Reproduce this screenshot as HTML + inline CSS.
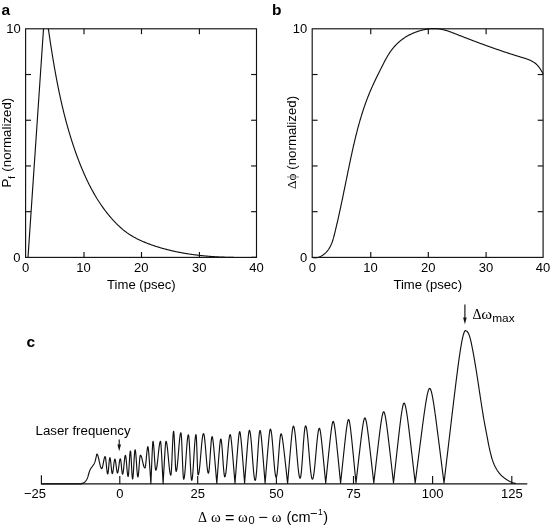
<!DOCTYPE html>
<html><head><meta charset="utf-8"><title>SPM figure</title>
<style>html,body{margin:0;padding:0;background:#fff;} body{width:552px;height:528px;overflow:hidden;} svg{display:block;}</style>
</head><body>
<svg width="552" height="528" viewBox="0 0 552 528">
<defs><clipPath id="ca"><rect x="25.60" y="28.80" width="230.90" height="228.60"/></clipPath></defs>
<g fill="none" stroke="#111" stroke-width="1.15" stroke-linecap="butt">
<rect x="25.6" y="28.8" width="230.90" height="228.60"/>
<line x1="84.00" y1="257.4" x2="84.00" y2="252.00"/>
<line x1="84.00" y1="28.8" x2="84.00" y2="34.20"/>
<line x1="141.50" y1="257.4" x2="141.50" y2="252.00"/>
<line x1="141.50" y1="28.8" x2="141.50" y2="34.20"/>
<line x1="199.40" y1="257.4" x2="199.40" y2="252.00"/>
<line x1="199.40" y1="28.8" x2="199.40" y2="34.20"/>
<line x1="25.6" y1="211.68" x2="31.00" y2="211.68"/>
<line x1="256.5" y1="211.68" x2="251.10" y2="211.68"/>
<line x1="25.6" y1="165.96" x2="31.00" y2="165.96"/>
<line x1="256.5" y1="165.96" x2="251.10" y2="165.96"/>
<line x1="25.6" y1="120.24" x2="31.00" y2="120.24"/>
<line x1="256.5" y1="120.24" x2="251.10" y2="120.24"/>
<line x1="25.6" y1="74.52" x2="31.00" y2="74.52"/>
<line x1="256.5" y1="74.52" x2="251.10" y2="74.52"/>
<polyline clip-path="url(#ca)" points="28.00,257.40 43.50,29.00 44.30,17.00"/>
<polyline clip-path="url(#ca)" points="46.60,18.00 48.39,29.06 48.48,29.65 48.57,30.24 48.65,30.83 48.74,31.42 48.82,32.01 48.91,32.60 49.00,33.19 49.08,33.79 49.17,34.38 49.26,34.97 49.35,35.56 49.43,36.15 49.52,36.74 49.61,37.33 49.70,37.92 49.79,38.51 49.88,39.11 49.96,39.70 50.05,40.29 50.14,40.88 50.23,41.47 50.32,42.06 50.41,42.65 50.50,43.24 50.59,43.83 50.68,44.42 50.77,45.01 50.86,45.60 50.95,46.19 51.05,46.78 51.14,47.37 51.23,47.96 51.32,48.55 51.41,49.14 51.51,49.73 51.60,50.32 51.69,50.91 51.79,51.50 51.88,52.09 51.97,52.68 52.07,53.27 52.16,53.86 52.26,54.45 52.35,55.04 52.45,55.63 52.54,56.22 52.64,56.81 52.74,57.39 52.83,57.98 52.93,58.57 53.03,59.16 53.13,59.75 53.22,60.34 53.32,60.93 53.42,61.52 53.52,62.10 53.62,62.69 53.72,63.28 53.82,63.87 53.92,64.46 54.02,65.04 54.12,65.63 54.22,66.22 54.32,66.81 54.43,67.40 54.53,67.98 54.63,68.57 54.74,69.16 54.84,69.74 54.94,70.33 55.05,70.92 55.15,71.51 55.26,72.09 55.36,72.68 55.47,73.27 55.58,73.85 55.68,74.44 55.79,75.02 55.90,75.61 56.01,76.20 56.12,76.78 56.23,77.37 56.34,77.95 56.45,78.54 56.56,79.12 56.67,79.71 56.78,80.30 56.89,80.88 57.00,81.47 57.12,82.05 57.23,82.64 57.34,83.22 57.46,83.80 57.57,84.39 57.69,84.97 57.80,85.56 57.92,86.14 58.04,86.72 58.15,87.31 58.27,87.89 58.39,88.48 58.51,89.06 58.63,89.64 58.75,90.23 58.87,90.81 58.99,91.39 59.11,91.97 59.23,92.56 59.36,93.14 59.48,93.72 59.60,94.30 59.73,94.89 59.85,95.47 59.98,96.05 60.10,96.63 60.23,97.21 60.36,97.79 60.48,98.37 60.61,98.96 60.74,99.54 60.87,100.12 61.00,100.70 61.13,101.28 61.26,101.86 61.40,102.44 61.53,103.02 61.66,103.60 61.79,104.18 61.93,104.76 62.06,105.34 62.20,105.92 62.33,106.49 62.47,107.07 62.61,107.65 62.75,108.23 62.89,108.81 63.03,109.39 63.17,109.96 63.31,110.54 63.45,111.12 63.59,111.70 63.73,112.27 63.88,112.85 64.02,113.43 64.16,114.01 64.31,114.58 64.46,115.16 64.60,115.73 64.75,116.31 64.90,116.89 65.05,117.46 65.20,118.04 65.35,118.61 65.50,119.19 65.65,119.76 65.80,120.34 65.95,120.91 66.11,121.49 66.26,122.06 66.42,122.64 66.57,123.21 66.73,123.78 66.89,124.36 67.05,124.93 67.21,125.50 67.37,126.08 67.53,126.65 67.69,127.22 67.85,127.79 68.01,128.37 68.18,128.94 68.34,129.51 68.51,130.08 68.67,130.65 68.84,131.22 69.01,131.79 69.18,132.36 69.35,132.93 69.52,133.50 69.69,134.07 69.86,134.64 70.03,135.21 70.20,135.78 70.38,136.35 70.55,136.92 70.73,137.49 70.91,138.06 71.08,138.63 71.26,139.19 71.44,139.76 71.62,140.33 71.80,140.90 71.98,141.46 72.17,142.03 72.35,142.60 72.54,143.17 72.72,143.73 72.91,144.30 73.09,144.86 73.28,145.43 73.47,145.99 73.66,146.56 73.85,147.12 74.04,147.69 74.24,148.25 74.43,148.82 74.62,149.38 74.82,149.95 75.01,150.51 75.21,151.07 75.41,151.63 75.61,152.20 75.81,152.76 76.01,153.32 76.21,153.88 76.41,154.45 76.62,155.01 76.82,155.57 77.03,156.13 77.24,156.69 77.44,157.25 77.65,157.81 77.86,158.37 78.07,158.93 78.28,159.49 78.50,160.05 78.71,160.61 78.92,161.17 79.14,161.73 79.36,162.28 79.57,162.84 79.79,163.40 80.01,163.95 80.23,164.51 80.45,165.07 80.68,165.62 80.90,166.18 81.13,166.73 81.35,167.29 81.58,167.84 81.81,168.40 82.04,168.95 82.27,169.50 82.50,170.05 82.74,170.60 82.97,171.15 83.21,171.71 83.45,172.26 83.68,172.80 83.92,173.35 84.16,173.90 84.41,174.45 84.65,175.00 84.89,175.54 85.14,176.09 85.39,176.63 85.64,177.18 85.89,177.72 86.14,178.26 86.39,178.81 86.64,179.35 86.90,179.89 87.16,180.43 87.42,180.97 87.67,181.51 87.94,182.04 88.20,182.58 88.46,183.12 88.73,183.65 88.99,184.19 89.26,184.72 89.53,185.25 89.80,185.78 90.08,186.31 90.35,186.84 90.63,187.37 90.90,187.90 91.18,188.43 91.46,188.96 91.74,189.48 92.03,190.01 92.31,190.53 92.60,191.05 92.89,191.57 93.18,192.09 93.47,192.61 93.76,193.13 94.06,193.65 94.35,194.16 94.65,194.68 94.95,195.19 95.25,195.71 95.55,196.22 95.86,196.73 96.16,197.24 96.47,197.75 96.78,198.25 97.09,198.76 97.41,199.26 97.72,199.77 98.04,200.27 98.36,200.77 98.68,201.27 99.00,201.77 99.32,202.27 99.65,202.76 99.98,203.26 100.31,203.75 100.64,204.24 100.97,204.73 101.31,205.22 101.64,205.71 101.98,206.20 102.32,206.68 102.67,207.17 103.01,207.65 103.36,208.13 103.71,208.61 104.06,209.09 104.41,209.57 104.76,210.04 105.12,210.51 105.48,210.99 105.84,211.46 106.20,211.93 106.57,212.39 106.93,212.86 107.30,213.33 107.67,213.79 108.04,214.25 108.42,214.71 108.80,215.17 109.17,215.62 109.56,216.08 109.94,216.53 110.32,216.98 110.71,217.43 111.10,217.88 111.49,218.33 111.89,218.77 112.28,219.22 112.68,219.66 113.08,220.10 113.48,220.54 113.89,220.97 114.29,221.41 114.70,221.84 115.12,222.27 115.53,222.70 115.95,223.12 116.36,223.55 116.78,223.97 117.21,224.39 117.63,224.81 118.06,225.22 118.49,225.64 118.93,226.04 119.36,226.45 119.80,226.86 120.24,227.26 120.68,227.65 121.13,228.05 121.58,228.44 122.03,228.83 122.48,229.21 122.94,229.60 123.40,229.97 123.86,230.35 124.32,230.72 124.79,231.09 125.26,231.45 125.74,231.81 126.21,232.16 126.69,232.51 127.17,232.86 127.66,233.20 128.14,233.54 128.64,233.88 129.13,234.21 129.63,234.53 130.12,234.85 130.63,235.17 131.13,235.48 131.64,235.79 132.15,236.09 132.66,236.39 133.18,236.69 133.69,236.98 134.21,237.27 134.74,237.55 135.26,237.83 135.79,238.11 136.31,238.39 136.84,238.66 137.37,238.92 137.91,239.19 138.44,239.45 138.98,239.71 139.52,239.97 140.06,240.22 140.60,240.47 141.14,240.72 141.68,240.96 142.23,241.21 142.78,241.45 143.33,241.68 143.87,241.92 144.43,242.15 144.98,242.38 145.53,242.60 146.09,242.83 146.64,243.05 147.20,243.27 147.76,243.48 148.32,243.70 148.88,243.91 149.44,244.12 150.00,244.32 150.56,244.53 151.12,244.73 151.69,244.93 152.25,245.13 152.82,245.32 153.39,245.52 153.95,245.71 154.52,245.90 155.09,246.08 155.66,246.27 156.23,246.45 156.80,246.63 157.37,246.81 157.94,246.99 158.52,247.16 159.09,247.34 159.66,247.51 160.23,247.68 160.81,247.85 161.38,248.01 161.95,248.18 162.53,248.34 163.10,248.50 163.68,248.66 164.25,248.82 164.83,248.97 165.41,249.13 165.98,249.28 166.56,249.43 167.14,249.58 167.72,249.72 168.29,249.87 168.87,250.01 169.45,250.15 170.03,250.29 170.61,250.43 171.19,250.57 171.77,250.71 172.35,250.84 172.93,250.97 173.51,251.10 174.09,251.23 174.67,251.36 175.25,251.48 175.84,251.61 176.42,251.73 177.00,251.85 177.58,251.97 178.17,252.09 178.75,252.20 179.34,252.32 179.92,252.43 180.50,252.54 181.09,252.65 181.67,252.76 182.26,252.87 182.84,252.97 183.43,253.08 184.02,253.18 184.60,253.28 185.19,253.38 185.78,253.48 186.36,253.58 186.95,253.67 187.54,253.77 188.12,253.86 188.71,253.95 189.30,254.04 189.89,254.13 190.48,254.22 191.07,254.30 191.66,254.39 192.25,254.47 192.83,254.55 193.42,254.63 194.01,254.71 194.60,254.79 195.19,254.87 195.79,254.94 196.38,255.01 196.97,255.09 197.56,255.16 198.15,255.23 198.74,255.30 199.33,255.36 199.92,255.43 200.52,255.50 201.11,255.56 201.70,255.62 202.29,255.68 202.89,255.74 203.48,255.80 204.07,255.86 204.66,255.92 205.26,255.97 205.85,256.03 206.44,256.08 207.04,256.13 207.63,256.19 208.23,256.24 208.82,256.28 209.41,256.33 210.01,256.38 210.60,256.42 211.20,256.47 211.79,256.51 212.39,256.55 212.98,256.60 213.58,256.64 214.17,256.67 214.77,256.71 215.36,256.75 215.96,256.79 216.55,256.82 217.15,256.86 217.74,256.89 218.34,256.92 218.94,256.95 219.53,256.98 220.13,257.01 220.72,257.04 221.32,257.07 221.92,257.10 222.51,257.12 223.11,257.15 223.71,257.17 224.30,257.19 224.90,257.21 225.49,257.24 226.09,257.26 226.69,257.28 227.28,257.29 227.88,257.31 228.48,257.33 229.07,257.35 229.67,257.36 230.27,257.38 230.87,257.39 231.46,257.40 232.06,257.41 232.66,257.43 233.25,257.44 233.85,257.45 234.45,257.46 235.04,257.46 235.64,257.47 236.24,257.48 236.83,257.49 237.43,257.49 238.03,257.50 238.62,257.50 239.22,257.50 239.82,257.51 240.41,257.51 241.01,257.51 241.61,257.51 242.20,257.51 242.80,257.51 243.40,257.51 243.99,257.51 244.59,257.51 245.19,257.51 245.78,257.50 246.38,257.50 246.98,257.49 247.57,257.49 248.17,257.48 248.76,257.48 249.36,257.47 249.96,257.46 250.55,257.46 251.15,257.45 251.74,257.44 252.34,257.43 252.93,257.42 253.53,257.41 254.12,257.40 254.72,257.39 255.31,257.38 255.91,257.37 256.50,257.36"/>
</g>
<g fill="none" stroke="#111" stroke-width="1.15">
<rect x="312.2" y="28.8" width="230.90" height="228.60"/>
<line x1="370.75" y1="257.4" x2="370.75" y2="252.00"/>
<line x1="370.75" y1="28.8" x2="370.75" y2="34.20"/>
<line x1="428.30" y1="257.4" x2="428.30" y2="252.00"/>
<line x1="428.30" y1="28.8" x2="428.30" y2="34.20"/>
<line x1="486.10" y1="257.4" x2="486.10" y2="252.00"/>
<line x1="486.10" y1="28.8" x2="486.10" y2="34.20"/>
<line x1="312.2" y1="211.68" x2="317.60" y2="211.68"/>
<line x1="543.1" y1="211.68" x2="537.70" y2="211.68"/>
<line x1="312.2" y1="165.96" x2="317.60" y2="165.96"/>
<line x1="543.1" y1="165.96" x2="537.70" y2="165.96"/>
<line x1="312.2" y1="120.24" x2="317.60" y2="120.24"/>
<line x1="543.1" y1="120.24" x2="537.70" y2="120.24"/>
<line x1="312.2" y1="74.52" x2="317.60" y2="74.52"/>
<line x1="543.1" y1="74.52" x2="537.70" y2="74.52"/>
<polyline points="312.10,257.33 312.59,257.48 313.08,257.60 313.58,257.69 314.07,257.75 314.57,257.79 315.07,257.80 315.56,257.79 316.06,257.76 316.55,257.70 317.05,257.62 317.54,257.52 318.03,257.39 318.51,257.25 318.99,257.09 319.47,256.91 319.94,256.72 320.41,256.51 320.88,256.28 321.33,256.04 321.78,255.78 322.23,255.51 322.66,255.23 323.09,254.94 323.51,254.63 323.92,254.32 324.32,254.00 324.72,253.67 325.10,253.33 325.47,252.99 325.83,252.64 326.18,252.28 326.52,251.92 326.85,251.55 327.18,251.17 327.49,250.79 327.79,250.41 328.09,250.02 328.37,249.62 328.65,249.22 328.92,248.81 329.18,248.40 329.43,247.98 329.68,247.56 329.92,247.14 330.15,246.71 330.37,246.28 330.59,245.84 330.80,245.40 331.01,244.95 331.20,244.51 331.40,244.05 331.59,243.60 331.77,243.14 331.95,242.68 332.12,242.21 332.29,241.75 332.45,241.28 332.61,240.81 332.76,240.33 332.91,239.86 333.06,239.38 333.20,238.90 333.35,238.42 333.48,237.93 333.62,237.45 333.75,236.96 333.88,236.48 334.01,235.99 334.14,235.50 334.26,235.01 334.39,234.52 334.51,234.03 334.63,233.54 334.75,233.05 334.87,232.56 334.99,232.07 335.11,231.58 335.23,231.09 335.35,230.59 335.47,230.10 335.58,229.61 335.70,229.12 335.82,228.63 335.94,228.14 336.05,227.65 336.17,227.16 336.28,226.67 336.40,226.18 336.52,225.69 336.63,225.20 336.74,224.71 336.86,224.22 336.97,223.73 337.09,223.24 337.20,222.75 337.31,222.26 337.42,221.77 337.54,221.28 337.65,220.79 337.76,220.30 337.87,219.81 337.98,219.32 338.09,218.84 338.20,218.35 338.31,217.86 338.42,217.37 338.53,216.88 338.64,216.39 338.75,215.90 338.86,215.41 338.97,214.92 339.07,214.43 339.18,213.94 339.29,213.45 339.40,212.97 339.50,212.48 339.61,211.99 339.72,211.50 339.82,211.01 339.93,210.52 340.04,210.03 340.14,209.54 340.25,209.05 340.35,208.57 340.46,208.08 340.56,207.59 340.67,207.10 340.77,206.61 340.88,206.12 340.98,205.63 341.08,205.15 341.19,204.66 341.29,204.17 341.40,203.68 341.50,203.19 341.60,202.70 341.70,202.22 341.81,201.73 341.91,201.24 342.01,200.75 342.11,200.26 342.22,199.77 342.32,199.29 342.42,198.80 342.52,198.31 342.62,197.82 342.73,197.33 342.83,196.84 342.93,196.36 343.03,195.87 343.13,195.38 343.23,194.89 343.33,194.40 343.43,193.91 343.53,193.43 343.63,192.94 343.73,192.45 343.83,191.96 343.93,191.47 344.03,190.98 344.14,190.50 344.24,190.01 344.34,189.52 344.44,189.03 344.54,188.54 344.63,188.05 344.73,187.57 344.83,187.08 344.93,186.59 345.03,186.10 345.13,185.61 345.23,185.12 345.33,184.64 345.43,184.15 345.53,183.66 345.63,183.17 345.73,182.68 345.83,182.19 345.93,181.71 346.03,181.22 346.13,180.73 346.23,180.24 346.33,179.75 346.43,179.26 346.53,178.77 346.63,178.29 346.73,177.80 346.83,177.31 346.93,176.82 347.03,176.33 347.13,175.84 347.23,175.35 347.33,174.87 347.43,174.38 347.53,173.89 347.63,173.40 347.73,172.91 347.83,172.42 347.93,171.93 348.03,171.44 348.13,170.95 348.23,170.46 348.33,169.98 348.43,169.49 348.53,169.00 348.63,168.51 348.74,168.02 348.84,167.53 348.94,167.04 349.04,166.55 349.14,166.06 349.24,165.57 349.34,165.08 349.45,164.59 349.55,164.10 349.65,163.61 349.75,163.12 349.86,162.63 349.96,162.14 350.06,161.65 350.17,161.16 350.27,160.67 350.37,160.18 350.48,159.69 350.58,159.20 350.68,158.71 350.79,158.22 350.89,157.73 351.00,157.24 351.10,156.75 351.21,156.26 351.31,155.77 351.42,155.28 351.53,154.79 351.63,154.30 351.74,153.81 351.84,153.32 351.95,152.83 352.06,152.34 352.17,151.85 352.27,151.36 352.38,150.87 352.49,150.38 352.60,149.89 352.71,149.40 352.82,148.91 352.93,148.42 353.04,147.93 353.15,147.44 353.26,146.95 353.37,146.46 353.48,145.97 353.59,145.48 353.71,144.99 353.82,144.50 353.93,144.02 354.04,143.53 354.16,143.04 354.27,142.55 354.39,142.06 354.50,141.57 354.62,141.08 354.73,140.59 354.85,140.10 354.97,139.62 355.08,139.13 355.20,138.64 355.32,138.15 355.44,137.66 355.56,137.18 355.68,136.69 355.80,136.20 355.92,135.71 356.04,135.23 356.16,134.74 356.28,134.25 356.40,133.76 356.53,133.28 356.65,132.79 356.77,132.31 356.90,131.82 357.02,131.33 357.15,130.85 357.28,130.36 357.40,129.88 357.53,129.39 357.66,128.91 357.79,128.42 357.92,127.94 358.05,127.45 358.18,126.97 358.31,126.48 358.44,126.00 358.57,125.52 358.70,125.03 358.84,124.55 358.97,124.07 359.11,123.58 359.24,123.10 359.38,122.62 359.52,122.14 359.65,121.65 359.79,121.17 359.93,120.69 360.07,120.21 360.21,119.73 360.35,119.25 360.49,118.77 360.63,118.29 360.78,117.81 360.92,117.33 361.07,116.85 361.21,116.37 361.36,115.89 361.50,115.41 361.65,114.94 361.80,114.46 361.95,113.98 362.10,113.50 362.25,113.03 362.40,112.55 362.55,112.07 362.70,111.60 362.86,111.12 363.01,110.65 363.17,110.17 363.32,109.70 363.48,109.22 363.64,108.75 363.80,108.28 363.96,107.80 364.12,107.33 364.28,106.86 364.44,106.38 364.60,105.91 364.77,105.44 364.93,104.97 365.10,104.50 365.26,104.03 365.43,103.56 365.60,103.09 365.77,102.62 365.94,102.15 366.11,101.68 366.28,101.21 366.46,100.75 366.63,100.28 366.81,99.81 366.98,99.34 367.16,98.88 367.34,98.41 367.51,97.95 367.69,97.48 367.87,97.02 368.06,96.55 368.24,96.09 368.42,95.63 368.61,95.16 368.79,94.70 368.98,94.24 369.17,93.78 369.36,93.32 369.55,92.86 369.74,92.40 369.93,91.94 370.12,91.48 370.32,91.02 370.51,90.56 370.71,90.10 370.91,89.65 371.11,89.19 371.30,88.73 371.50,88.28 371.71,87.82 371.91,87.37 372.11,86.91 372.32,86.46 372.52,86.00 372.73,85.55 372.93,85.10 373.14,84.64 373.35,84.19 373.56,83.74 373.77,83.29 373.98,82.83 374.19,82.38 374.40,81.93 374.61,81.48 374.83,81.03 375.04,80.58 375.26,80.13 375.47,79.68 375.69,79.23 375.90,78.78 376.12,78.33 376.34,77.88 376.56,77.43 376.78,76.98 377.00,76.53 377.22,76.08 377.44,75.64 377.66,75.19 377.88,74.74 378.10,74.29 378.32,73.84 378.54,73.40 378.77,72.95 378.99,72.50 379.21,72.05 379.44,71.61 379.66,71.16 379.89,70.71 380.11,70.26 380.34,69.82 380.56,69.37 380.79,68.92 381.01,68.47 381.24,68.03 381.46,67.58 381.69,67.13 381.92,66.68 382.14,66.24 382.37,65.79 382.59,65.34 382.82,64.89 383.05,64.44 383.28,64.00 383.50,63.55 383.73,63.10 383.96,62.66 384.19,62.21 384.42,61.77 384.66,61.32 384.89,60.88 385.13,60.43 385.36,59.99 385.60,59.55 385.84,59.11 386.08,58.67 386.32,58.23 386.57,57.80 386.81,57.36 387.06,56.93 387.31,56.49 387.57,56.06 387.82,55.63 388.08,55.21 388.34,54.78 388.61,54.36 388.87,53.93 389.14,53.51 389.41,53.10 389.69,52.68 389.97,52.27 390.25,51.86 390.53,51.45 390.82,51.04 391.12,50.64 391.41,50.23 391.71,49.84 392.01,49.44 392.32,49.05 392.63,48.66 392.95,48.27 393.27,47.88 393.59,47.50 393.91,47.12 394.24,46.75 394.57,46.37 394.91,46.00 395.25,45.64 395.59,45.27 395.94,44.91 396.29,44.56 396.64,44.20 397.00,43.85 397.36,43.50 397.72,43.16 398.09,42.82 398.45,42.48 398.83,42.15 399.20,41.82 399.58,41.49 399.96,41.17 400.35,40.85 400.73,40.54 401.12,40.23 401.52,39.92 401.91,39.62 402.31,39.32 402.71,39.02 403.12,38.73 403.52,38.44 403.93,38.16 404.35,37.88 404.76,37.61 405.18,37.34 405.60,37.07 406.02,36.81 406.45,36.55 406.88,36.29 407.31,36.05 407.74,35.80 408.18,35.56 408.61,35.32 409.05,35.09 409.49,34.86 409.94,34.64 410.39,34.41 410.83,34.20 411.29,33.99 411.74,33.78 412.19,33.57 412.65,33.37 413.11,33.18 413.57,32.98 414.03,32.79 414.50,32.61 414.97,32.43 415.43,32.25 415.90,32.08 416.38,31.91 416.85,31.74 417.33,31.58 417.80,31.42 418.28,31.27 418.76,31.12 419.24,30.97 419.73,30.82 420.21,30.68 420.70,30.55 421.19,30.41 421.68,30.28 422.17,30.16 422.66,30.04 423.15,29.92 423.65,29.81 424.14,29.70 424.64,29.59 425.13,29.49 425.63,29.40 426.13,29.31 426.63,29.22 427.12,29.14 427.62,29.06 428.12,28.99 428.62,28.92 429.12,28.86 429.62,28.81 430.12,28.75 430.62,28.71 431.13,28.67 431.63,28.64 432.13,28.61 432.63,28.59 433.12,28.57 433.62,28.56 434.12,28.56 434.62,28.56 435.12,28.57 435.61,28.58 436.11,28.61 436.60,28.64 437.10,28.67 437.59,28.71 438.08,28.76 438.57,28.82 439.06,28.88 439.55,28.95 440.04,29.03 440.53,29.11 441.01,29.20 441.50,29.29 441.98,29.40 442.46,29.50 442.94,29.61 443.42,29.73 443.90,29.85 444.38,29.98 444.86,30.11 445.34,30.24 445.82,30.38 446.29,30.53 446.77,30.67 447.24,30.82 447.72,30.98 448.19,31.14 448.66,31.30 449.14,31.46 449.61,31.63 450.08,31.80 450.55,31.97 451.02,32.14 451.49,32.32 451.96,32.49 452.43,32.67 452.90,32.85 453.37,33.03 453.84,33.21 454.31,33.40 454.78,33.58 455.25,33.77 455.72,33.95 456.18,34.13 456.65,34.32 457.12,34.50 457.59,34.69 458.06,34.87 458.53,35.05 458.99,35.24 459.46,35.42 459.93,35.60 460.40,35.79 460.86,35.97 461.33,36.15 461.80,36.33 462.27,36.52 462.74,36.70 463.20,36.88 463.67,37.06 464.14,37.24 464.61,37.42 465.07,37.60 465.54,37.78 466.01,37.96 466.48,38.14 466.94,38.32 467.41,38.50 467.88,38.68 468.35,38.86 468.82,39.04 469.28,39.22 469.75,39.40 470.22,39.58 470.69,39.76 471.15,39.94 471.62,40.11 472.09,40.29 472.56,40.47 473.02,40.65 473.49,40.82 473.96,41.00 474.43,41.18 474.90,41.35 475.36,41.53 475.83,41.70 476.30,41.88 476.77,42.06 477.24,42.23 477.70,42.41 478.17,42.58 478.64,42.75 479.11,42.93 479.58,43.10 480.04,43.28 480.51,43.45 480.98,43.62 481.45,43.80 481.92,43.97 482.39,44.14 482.86,44.31 483.32,44.48 483.79,44.66 484.26,44.83 484.73,45.00 485.20,45.17 485.67,45.34 486.14,45.51 486.61,45.68 487.08,45.85 487.55,46.02 488.02,46.19 488.49,46.36 488.96,46.53 489.43,46.69 489.90,46.86 490.37,47.03 490.84,47.20 491.31,47.36 491.78,47.53 492.25,47.70 492.72,47.86 493.19,48.03 493.66,48.19 494.13,48.36 494.60,48.53 495.08,48.69 495.55,48.85 496.02,49.02 496.49,49.18 496.96,49.35 497.43,49.51 497.91,49.67 498.38,49.83 498.85,50.00 499.32,50.16 499.80,50.32 500.27,50.48 500.74,50.64 501.22,50.80 501.69,50.96 502.16,51.12 502.64,51.28 503.11,51.44 503.58,51.60 504.06,51.76 504.53,51.92 505.01,52.08 505.48,52.23 505.96,52.39 506.43,52.55 506.91,52.70 507.38,52.86 507.86,53.02 508.33,53.17 508.81,53.33 509.29,53.48 509.76,53.64 510.24,53.79 510.72,53.94 511.19,54.10 511.67,54.25 512.15,54.40 512.63,54.56 513.10,54.71 513.58,54.86 514.06,55.01 514.54,55.16 515.02,55.31 515.50,55.46 515.98,55.61 516.46,55.76 516.94,55.91 517.42,56.06 517.90,56.21 518.38,56.36 518.86,56.50 519.34,56.65 519.82,56.80 520.30,56.94 520.78,57.09 521.26,57.24 521.75,57.38 522.23,57.53 522.71,57.67 523.19,57.82 523.67,57.96 524.15,58.11 524.63,58.26 525.11,58.41 525.59,58.56 526.07,58.72 526.54,58.88 527.01,59.04 527.48,59.21 527.95,59.38 528.41,59.55 528.87,59.73 529.33,59.92 529.78,60.11 530.23,60.30 530.68,60.50 531.12,60.71 531.56,60.93 531.99,61.15 532.42,61.39 532.84,61.63 533.26,61.87 533.67,62.13 534.08,62.40 534.48,62.67 534.87,62.96 535.26,63.26 535.64,63.56 536.01,63.88 536.38,64.21 536.74,64.55 537.09,64.91 537.44,65.27 537.77,65.65 538.10,66.04 538.42,66.43 538.74,66.84 539.05,67.25 539.35,67.67 539.65,68.10 539.95,68.53 540.23,68.96 540.52,69.40 540.79,69.85 541.07,70.29 541.34,70.74 541.60,71.18 541.86,71.63 542.12,72.07 542.37,72.52 542.63,72.96 542.88,73.39 543.12,73.83"/>
</g>
<g fill="none" stroke="#111" stroke-width="1.15">
<line x1="41.4" y1="483.9" x2="527.3" y2="483.9"/>
<line x1="41.4" y1="484.4" x2="41.4" y2="475.2"/>
<line x1="119.80" y1="483.9" x2="119.80" y2="476.0"/>
<line x1="197.70" y1="483.9" x2="197.70" y2="476.0"/>
<line x1="276.40" y1="483.9" x2="276.40" y2="476.0"/>
<line x1="353.50" y1="483.9" x2="353.50" y2="476.0"/>
<line x1="432.60" y1="483.9" x2="432.60" y2="476.0"/>
<line x1="511.80" y1="483.9" x2="511.80" y2="476.0"/>
<polyline stroke-linejoin="round" points="41.40,483.90 44.45,483.90 48.75,483.91 53.89,483.92 59.48,483.93 65.08,483.94 70.31,483.94 74.75,483.92 78.00,483.90 80.04,483.86 81.25,483.82 81.82,483.76 81.94,483.70 81.79,483.63 81.56,483.56 81.43,483.48 81.60,483.40 81.96,483.32 82.29,483.25 82.61,483.17 82.90,483.09 83.18,483.00 83.46,482.89 83.73,482.76 84.00,482.60 84.27,482.41 84.54,482.21 84.80,481.98 85.05,481.74 85.30,481.48 85.54,481.20 85.77,480.91 86.00,480.60 86.22,480.28 86.44,479.95 86.65,479.60 86.85,479.23 87.05,478.85 87.24,478.45 87.42,478.03 87.60,477.60 87.77,477.14 87.92,476.65 88.07,476.14 88.21,475.62 88.35,475.09 88.49,474.55 88.64,474.02 88.80,473.50 88.97,472.98 89.14,472.45 89.31,471.92 89.49,471.39 89.67,470.87 89.87,470.36 90.08,469.87 90.30,469.40 90.54,468.96 90.80,468.54 91.08,468.14 91.36,467.76 91.65,467.38 91.94,466.99 92.23,466.60 92.50,466.20 92.77,465.79 93.05,465.39 93.33,464.99 93.61,464.59 93.88,464.17 94.13,463.74 94.38,463.28 94.60,462.80 94.81,462.25 95.01,461.63 95.20,460.96 95.38,460.29 95.54,459.64 95.69,459.05 95.81,458.56 96.80,454.00 97.00,454.06 97.21,454.25 97.41,454.56 97.62,454.98 97.82,455.51 98.03,456.14 98.23,456.86 98.43,457.65 98.64,458.51 98.84,459.41 99.05,460.35 99.25,461.30 99.45,462.25 99.66,463.19 99.86,464.09 100.07,464.95 100.27,465.74 100.47,466.46 100.68,467.09 100.88,467.62 101.09,468.04 101.29,468.35 101.50,468.54 101.70,468.60 101.91,468.48 102.12,468.14 102.34,467.59 102.55,466.84 102.76,465.93 102.97,464.90 103.19,463.77 103.40,462.60 103.61,461.43 103.83,460.30 104.04,459.27 104.25,458.36 104.46,457.61 104.67,457.06 104.89,456.72 105.10,456.60 105.30,456.85 105.50,457.60 105.70,458.79 105.90,460.36 106.10,462.21 106.30,464.25 106.50,466.35 106.70,468.39 106.90,470.24 107.10,471.81 107.30,473.00 107.50,473.75 107.70,474.00 107.90,473.67 108.10,472.71 108.30,471.19 108.50,469.24 108.70,467.01 108.90,464.69 109.10,462.46 109.30,460.51 109.50,458.99 109.70,458.03 109.90,457.70 110.12,458.02 110.34,458.96 110.55,460.44 110.77,462.35 110.99,464.52 111.21,466.78 111.43,468.95 111.65,470.86 111.86,472.34 112.08,473.28 112.30,473.60 112.50,473.39 112.70,472.78 112.90,471.79 113.10,470.49 113.30,468.95 113.50,467.27 113.70,465.53 113.90,463.85 114.10,462.31 114.30,461.01 114.50,460.02 114.70,459.41 114.90,459.20 115.12,459.44 115.33,460.12 115.55,461.22 115.77,462.65 115.98,464.31 116.20,466.10 116.42,467.89 116.63,469.55 116.85,470.98 117.07,472.08 117.28,472.76 117.50,473.00 117.72,472.79 117.93,472.19 118.15,471.21 118.36,469.93 118.58,468.42 118.79,466.76 119.01,465.04 119.22,463.38 119.44,461.87 119.65,460.59 119.87,459.61 120.08,459.01 120.30,458.80 120.51,459.11 120.72,460.02 120.93,461.46 121.14,463.30 121.35,465.40 121.55,467.60 121.76,469.70 121.97,471.54 122.18,472.98 122.39,473.89 122.60,474.20 122.80,473.96 123.00,473.27 123.20,472.15 123.40,470.66 123.60,468.88 123.80,466.89 124.00,464.80 124.20,462.71 124.40,460.72 124.60,458.94 124.80,457.45 125.00,456.33 125.20,455.64 125.40,455.40 125.61,455.71 125.82,456.61 126.02,458.05 126.23,459.96 126.44,462.21 126.65,464.68 126.85,467.22 127.06,469.69 127.27,471.94 127.48,473.85 127.68,475.29 127.89,476.19 128.10,476.50 128.31,475.98 128.52,474.48 128.73,472.10 128.94,469.05 129.15,465.56 129.35,461.94 129.56,458.45 129.77,455.40 129.98,453.02 130.19,451.52 130.40,451.00 130.62,451.69 130.84,453.67 131.06,456.77 131.28,460.67 131.50,465.00 131.72,469.33 131.94,473.23 132.16,476.33 132.38,478.31 132.60,479.00 132.81,478.50 133.02,477.04 133.22,474.72 133.43,471.70 133.64,468.18 133.85,464.40 134.06,460.62 134.27,457.10 134.47,454.08 134.68,451.76 134.89,450.30 135.10,449.80 135.30,450.14 135.50,451.14 135.70,452.76 135.90,454.90 136.10,457.47 136.30,460.33 136.50,463.35 136.70,466.37 136.90,469.23 137.10,471.80 137.30,473.94 137.50,475.56 137.70,476.56 137.90,476.90 138.11,476.53 138.32,475.45 138.53,473.72 138.73,471.47 138.94,468.86 139.15,466.05 139.36,463.24 139.57,460.62 139.78,458.38 139.98,456.65 140.19,455.57 140.40,455.20 140.60,455.27 140.81,455.46 141.01,455.78 141.22,456.22 141.42,456.76 141.63,457.41 141.83,458.14 142.04,458.94 142.24,459.80 142.45,460.69 142.65,461.60 142.85,462.51 143.06,463.40 143.26,464.26 143.47,465.06 143.67,465.79 143.88,466.44 144.08,466.98 144.29,467.42 144.49,467.74 144.70,467.93 144.90,468.00 145.10,467.77 145.30,467.08 145.50,465.97 145.70,464.48 145.90,462.68 146.10,460.64 146.30,458.46 146.50,456.24 146.70,454.06 146.90,452.02 147.10,450.22 147.30,448.73 147.50,447.62 147.70,446.93 147.90,446.70 148.10,447.15 148.30,448.35 148.50,450.11 148.70,452.28 148.90,454.73 149.10,457.38 149.30,460.15 149.50,463.01 149.70,465.92 149.90,468.85 150.10,471.79 150.30,474.74 150.50,477.70 150.70,480.65 150.90,483.60 151.11,478.52 151.32,473.45 151.53,468.38 151.74,463.33 151.95,458.35 152.16,453.54 152.37,449.06 152.58,445.21 152.79,442.41 153.00,441.30 153.20,441.66 153.40,442.73 153.60,444.45 153.80,446.74 154.00,449.48 154.20,452.53 154.40,455.75 154.60,458.97 154.80,462.02 155.00,464.76 155.20,467.05 155.40,468.77 155.60,469.84 155.80,470.20 156.00,470.07 156.21,469.66 156.41,469.00 156.62,468.10 156.82,466.96 157.03,465.61 157.23,464.08 157.43,462.40 157.64,460.59 157.84,458.69 158.05,456.74 158.25,454.76 158.46,452.81 158.66,450.91 158.87,449.10 159.07,447.42 159.27,445.89 159.48,444.54 159.68,443.40 159.89,442.50 160.09,441.84 160.30,441.43 160.50,441.30 160.72,442.09 160.93,444.13 161.15,447.04 161.37,450.50 161.58,454.32 161.80,458.35 162.02,462.49 162.23,466.69 162.45,470.91 162.67,475.14 162.88,479.37 163.10,483.60 163.31,479.97 163.51,476.35 163.72,472.72 163.93,469.10 164.14,465.49 164.34,461.90 164.55,458.35 164.76,454.89 164.96,451.57 165.17,448.47 165.38,445.71 165.59,443.45 165.79,441.89 166.00,441.30 166.20,441.45 166.40,441.88 166.60,442.59 166.80,443.57 167.00,444.80 167.20,446.26 167.40,447.93 167.60,449.77 167.80,451.76 168.00,453.86 168.20,456.04 168.40,458.25 168.60,460.46 168.80,462.64 169.00,464.74 169.20,466.72 169.40,468.57 169.60,470.24 169.80,471.70 170.00,472.93 170.20,473.91 170.40,474.62 170.60,475.05 170.80,475.20 171.02,474.56 171.23,472.69 171.45,469.68 171.66,465.72 171.88,461.03 172.09,455.90 172.31,450.60 172.52,445.47 172.74,440.78 172.95,436.82 173.17,433.81 173.38,431.94 173.60,431.30 173.81,431.98 174.02,433.99 174.22,437.17 174.43,441.32 174.64,446.16 174.85,451.35 175.06,456.54 175.27,461.38 175.47,465.53 175.68,468.71 175.89,470.72 176.10,471.40 176.30,471.23 176.50,470.74 176.70,469.93 176.90,468.81 177.10,467.41 177.30,465.75 177.50,463.85 177.70,461.75 177.90,459.49 178.10,457.10 178.30,454.62 178.50,452.10 178.70,449.58 178.90,447.10 179.10,444.71 179.30,442.45 179.50,440.35 179.70,438.45 179.90,436.79 180.10,435.39 180.30,434.27 180.50,433.46 180.70,432.97 180.90,432.80 181.12,433.47 181.33,435.46 181.55,438.63 181.76,442.82 181.98,447.77 182.19,453.20 182.41,458.80 182.62,464.23 182.84,469.18 183.05,473.37 183.27,476.54 183.48,478.53 183.70,479.20 183.90,478.99 184.11,478.38 184.31,477.36 184.52,475.97 184.72,474.22 184.93,472.15 185.13,469.80 185.33,467.21 185.54,464.43 185.74,461.52 185.95,458.51 186.15,455.49 186.36,452.48 186.56,449.57 186.77,446.79 186.97,444.20 187.17,441.85 187.38,439.78 187.58,438.03 187.79,436.64 187.99,435.62 188.20,435.01 188.40,434.80 188.61,435.24 188.81,436.53 189.02,438.63 189.22,441.46 189.43,444.91 189.64,448.84 189.84,453.11 190.05,457.55 190.26,461.99 190.46,466.26 190.67,470.19 190.88,473.64 191.08,476.47 191.29,478.57 191.49,479.86 191.70,480.30 191.90,480.04 192.11,479.28 192.31,478.04 192.52,476.33 192.72,474.20 192.93,471.70 193.13,468.88 193.34,465.80 193.54,462.53 193.75,459.16 193.95,455.74 194.16,452.37 194.36,449.10 194.57,446.03 194.77,443.20 194.98,440.70 195.18,438.57 195.39,436.86 195.59,435.62 195.80,434.86 196.00,434.60 196.21,435.59 196.42,438.46 196.63,442.93 196.84,448.56 197.05,454.80 197.26,461.04 197.47,466.67 197.68,471.14 197.89,474.01 198.10,475.00 198.30,474.86 198.50,474.44 198.70,473.75 198.90,472.80 199.10,471.59 199.30,470.16 199.50,468.51 199.70,466.66 199.90,464.65 200.10,462.50 200.30,460.24 200.50,457.89 200.70,455.50 200.90,453.10 201.10,450.71 201.30,448.36 201.50,446.10 201.70,443.95 201.90,441.94 202.10,440.09 202.30,438.44 202.50,437.01 202.70,435.80 202.90,434.85 203.10,434.16 203.30,433.74 203.50,433.60 203.70,433.77 203.91,434.27 204.11,435.11 204.32,436.25 204.52,437.69 204.72,439.40 204.93,441.35 205.13,443.50 205.34,445.82 205.54,448.28 205.75,450.82 205.95,453.40 206.15,455.98 206.36,458.52 206.56,460.98 206.77,463.30 206.97,465.45 207.18,467.40 207.38,469.11 207.58,470.55 207.79,471.69 207.99,472.53 208.20,473.03 208.40,473.20 208.61,472.92 208.81,472.10 209.02,470.75 209.22,468.92 209.43,466.66 209.63,464.05 209.84,461.16 210.04,458.08 210.25,454.90 210.46,451.72 210.66,448.64 210.87,445.75 211.07,443.14 211.28,440.88 211.48,439.05 211.69,437.70 211.89,436.88 212.10,436.60 212.30,436.85 212.51,437.55 212.71,438.62 212.92,439.99 213.12,441.61 213.33,443.43 213.53,445.41 213.73,447.52 213.94,449.72 214.14,452.00 214.35,454.33 214.55,456.70 214.76,459.09 214.96,461.51 215.17,463.94 215.37,466.38 215.57,468.82 215.78,471.27 215.98,473.71 216.19,476.16 216.39,478.61 216.60,481.05 216.80,483.50 217.00,480.83 217.20,478.16 217.40,475.49 217.60,472.82 217.80,470.15 218.00,467.49 218.20,464.83 218.40,462.18 218.60,459.54 218.80,456.94 219.00,454.38 219.20,451.88 219.40,449.46 219.60,447.17 219.80,445.03 220.00,443.11 220.20,441.47 220.40,440.17 220.60,439.31 220.80,439.00 221.00,439.23 221.20,439.93 221.40,441.06 221.60,442.61 221.80,444.54 222.00,446.79 222.20,449.32 222.40,452.06 222.60,454.94 222.80,457.90 223.00,460.86 223.20,463.74 223.40,466.48 223.60,469.01 223.80,471.26 224.00,473.19 224.20,474.74 224.40,475.87 224.60,476.57 224.80,476.80 225.01,476.65 225.22,476.19 225.42,475.43 225.63,474.38 225.84,473.06 226.05,471.49 226.25,469.69 226.46,467.69 226.67,465.51 226.88,463.18 227.08,460.75 227.29,458.24 227.50,455.70 227.71,453.16 227.92,450.65 228.12,448.22 228.33,445.89 228.54,443.71 228.75,441.71 228.95,439.91 229.16,438.34 229.37,437.02 229.58,435.97 229.78,435.21 229.99,434.75 230.20,434.60 230.40,434.84 230.60,435.51 230.80,436.54 231.00,437.88 231.20,439.45 231.40,441.23 231.60,443.17 231.80,445.24 232.00,447.41 232.20,449.66 232.40,451.96 232.60,454.31 232.80,456.70 233.00,459.10 233.20,461.52 233.40,463.95 233.60,466.39 233.80,468.83 234.00,471.28 234.20,473.72 234.40,476.17 234.60,478.61 234.80,481.06 235.00,483.50 235.20,480.79 235.41,478.08 235.61,475.38 235.82,472.67 236.02,469.96 236.23,467.26 236.43,464.55 236.63,461.86 236.84,459.17 237.04,456.49 237.25,453.84 237.45,451.22 237.66,448.64 237.86,446.12 238.07,443.68 238.27,441.35 238.47,439.16 238.68,437.14 238.88,435.35 239.09,433.83 239.29,432.65 239.50,431.88 239.70,431.60 239.90,431.85 240.11,432.56 240.31,433.65 240.52,435.05 240.72,436.71 240.92,438.58 241.13,440.63 241.33,442.80 241.54,445.09 241.74,447.46 241.95,449.89 242.15,452.36 242.35,454.87 242.56,457.40 242.76,459.95 242.97,462.51 243.17,465.08 243.38,467.65 243.58,470.23 243.78,472.80 243.99,475.38 244.19,477.95 244.40,480.53 244.60,483.10 244.80,480.46 245.00,477.82 245.20,475.18 245.40,472.54 245.60,469.90 245.80,467.26 246.00,464.63 246.20,461.99 246.40,459.37 246.60,456.76 246.80,454.16 247.00,451.59 247.20,449.05 247.40,446.56 247.60,444.13 247.80,441.79 248.00,439.55 248.20,437.46 248.40,435.54 248.60,433.84 248.80,432.40 249.00,431.29 249.20,430.56 249.40,430.30 249.61,430.46 249.81,430.93 250.02,431.71 250.23,432.78 250.44,434.14 250.64,435.77 250.85,437.64 251.06,439.73 251.26,442.02 251.47,444.48 251.68,447.08 251.89,449.78 252.09,452.55 252.30,455.35 252.51,458.15 252.71,460.92 252.92,463.62 253.13,466.22 253.34,468.68 253.54,470.97 253.75,473.06 253.96,474.93 254.16,476.56 254.37,477.92 254.58,478.99 254.79,479.77 254.99,480.24 255.20,480.40 255.40,480.19 255.61,479.55 255.81,478.50 256.02,477.06 256.22,475.24 256.43,473.09 256.63,470.64 256.83,467.93 257.04,465.00 257.24,461.91 257.45,458.71 257.65,455.45 257.85,452.19 258.06,448.99 258.26,445.90 258.47,442.98 258.67,440.26 258.88,437.81 259.08,435.66 259.28,433.84 259.49,432.40 259.69,431.35 259.90,430.71 260.10,430.50 260.30,430.74 260.50,431.41 260.70,432.45 260.90,433.79 261.10,435.38 261.30,437.18 261.50,439.15 261.70,441.26 261.90,443.48 262.10,445.78 262.30,448.14 262.50,450.56 262.70,453.02 262.90,455.50 263.10,458.00 263.30,460.51 263.50,463.04 263.70,465.56 263.90,468.10 264.10,470.63 264.30,473.16 264.50,475.70 264.70,478.23 264.90,480.77 265.10,483.30 265.30,480.80 265.51,478.30 265.71,475.80 265.92,473.29 266.12,470.79 266.32,468.29 266.53,465.79 266.73,463.30 266.93,460.80 267.14,458.32 267.34,455.85 267.55,453.39 267.75,450.95 267.95,448.54 268.16,446.18 268.36,443.86 268.57,441.62 268.77,439.47 268.97,437.42 269.18,435.52 269.38,433.78 269.58,432.24 269.79,430.96 269.99,429.97 270.20,429.33 270.40,429.10 270.60,429.24 270.80,429.66 271.00,430.36 271.20,431.32 271.40,432.54 271.60,434.00 271.80,435.69 272.00,437.58 272.20,439.65 272.40,441.88 272.60,444.25 272.80,446.72 273.00,449.26 273.20,451.85 273.40,454.45 273.60,457.04 273.80,459.58 274.00,462.05 274.20,464.42 274.40,466.65 274.60,468.72 274.80,470.61 275.00,472.30 275.20,473.76 275.40,474.98 275.60,475.94 275.80,476.64 276.00,477.06 276.20,477.20 276.40,477.01 276.61,476.46 276.81,475.55 277.02,474.29 277.22,472.72 277.43,470.84 277.63,468.71 277.83,466.35 278.04,463.80 278.24,461.12 278.45,458.33 278.65,455.50 278.85,452.67 279.06,449.88 279.26,447.20 279.47,444.65 279.67,442.29 279.88,440.16 280.08,438.28 280.28,436.71 280.49,435.45 280.69,434.54 280.90,433.99 281.10,433.80 281.30,433.94 281.51,434.34 281.71,434.96 281.91,435.77 282.12,436.76 282.32,437.89 282.52,439.16 282.73,440.53 282.93,441.99 283.13,443.53 283.33,445.13 283.54,446.79 283.74,448.49 283.94,450.23 284.15,452.00 284.35,453.80 284.55,455.61 284.76,457.43 284.96,459.26 285.16,461.11 285.37,462.96 285.57,464.81 285.77,466.66 285.98,468.52 286.18,470.38 286.38,472.24 286.58,474.10 286.79,475.96 286.99,477.82 287.19,479.68 287.40,481.54 287.60,483.40 287.81,480.94 288.01,478.49 288.22,476.03 288.43,473.58 288.64,471.12 288.84,468.67 289.05,466.21 289.26,463.76 289.46,461.31 289.67,458.87 289.88,456.43 290.09,454.00 290.29,451.59 290.50,449.20 290.71,446.84 290.91,444.51 291.12,442.23 291.33,440.01 291.54,437.86 291.74,435.81 291.95,433.87 292.16,432.07 292.36,430.44 292.57,429.01 292.78,427.81 292.99,426.90 293.19,426.31 293.40,426.10 293.60,426.22 293.81,426.57 294.01,427.16 294.21,427.97 294.42,429.00 294.62,430.24 294.82,431.67 295.02,433.30 295.23,435.09 295.43,437.04 295.63,439.12 295.84,441.33 296.04,443.63 296.24,446.01 296.45,448.44 296.65,450.91 296.85,453.39 297.05,455.86 297.26,458.29 297.46,460.67 297.66,462.97 297.87,465.18 298.07,467.26 298.27,469.21 298.48,471.00 298.68,472.63 298.88,474.06 299.08,475.30 299.29,476.33 299.49,477.14 299.69,477.73 299.90,478.08 300.10,478.20 300.30,478.02 300.51,477.50 300.71,476.62 300.91,475.42 301.12,473.90 301.32,472.08 301.53,470.00 301.73,467.67 301.93,465.12 302.14,462.41 302.34,459.55 302.54,456.59 302.75,453.57 302.95,450.53 303.16,447.51 303.36,444.55 303.56,441.69 303.77,438.97 303.97,436.43 304.17,434.10 304.38,432.02 304.58,430.20 304.79,428.68 304.99,427.48 305.19,426.60 305.40,426.08 305.60,425.90 305.81,426.02 306.01,426.38 306.22,426.98 306.42,427.81 306.63,428.86 306.84,430.13 307.04,431.60 307.25,433.26 307.45,435.10 307.66,437.09 307.87,439.22 308.07,441.48 308.28,443.83 308.48,446.27 308.69,448.76 308.90,451.28 309.10,453.82 309.31,456.34 309.52,458.83 309.72,461.27 309.93,463.62 310.13,465.88 310.34,468.01 310.55,470.00 310.75,471.84 310.96,473.50 311.16,474.97 311.37,476.24 311.58,477.29 311.78,478.12 311.99,478.72 312.19,479.08 312.40,479.20 312.60,479.10 312.80,478.79 313.00,478.28 313.20,477.58 313.40,476.68 313.60,475.60 313.80,474.34 314.00,472.92 314.20,471.34 314.40,469.62 314.60,467.77 314.80,465.81 315.00,463.75 315.20,461.61 315.40,459.41 315.60,457.17 315.80,454.89 316.00,452.61 316.20,450.33 316.40,448.09 316.60,445.89 316.80,443.75 317.00,441.69 317.20,439.73 317.40,437.88 317.60,436.16 317.80,434.58 318.00,433.16 318.20,431.90 318.40,430.82 318.60,429.92 318.80,429.22 319.00,428.71 319.20,428.40 319.40,428.30 319.60,428.46 319.81,428.93 320.01,429.65 320.21,430.61 320.42,431.76 320.62,433.08 320.82,434.55 321.03,436.14 321.23,437.83 321.43,439.61 321.64,441.46 321.84,443.38 322.04,445.34 322.25,447.34 322.45,449.37 322.65,451.42 322.85,453.49 323.06,455.58 323.26,457.68 323.46,459.79 323.67,461.90 323.87,464.01 324.07,466.13 324.28,468.25 324.48,470.37 324.68,472.49 324.89,474.61 325.09,476.74 325.29,478.86 325.50,480.98 325.70,483.10 325.90,481.10 326.11,479.10 326.31,477.10 326.51,475.10 326.71,473.09 326.92,471.09 327.12,469.09 327.32,467.09 327.52,465.09 327.73,463.09 327.93,461.10 328.13,459.10 328.34,457.11 328.54,455.12 328.74,453.14 328.94,451.16 329.15,449.20 329.35,447.24 329.55,445.31 329.75,443.39 329.96,441.49 330.16,439.62 330.36,437.79 330.56,435.99 330.77,434.25 330.97,432.56 331.17,430.93 331.38,429.39 331.58,427.93 331.78,426.57 331.98,425.33 332.19,424.23 332.39,423.28 332.59,422.49 332.79,421.90 333.00,421.53 333.20,421.40 333.40,421.53 333.60,421.90 333.80,422.49 334.00,423.28 334.20,424.23 334.40,425.33 334.60,426.57 334.80,427.93 335.00,429.39 335.20,430.93 335.40,432.56 335.60,434.25 335.80,435.99 336.00,437.79 336.20,439.62 336.40,441.49 336.60,443.39 336.80,445.31 337.00,447.24 337.20,449.20 337.40,451.16 337.60,453.14 337.80,455.12 338.00,457.11 338.20,459.10 338.40,461.10 338.60,463.09 338.80,465.09 339.00,467.09 339.20,469.09 339.40,471.09 339.60,473.09 339.80,475.10 340.00,477.10 340.20,479.10 340.40,481.10 340.60,483.10 340.80,481.19 341.00,479.28 341.20,477.38 341.40,475.47 341.60,473.56 341.80,471.65 342.00,469.74 342.20,467.84 342.40,465.93 342.60,464.02 342.80,462.12 343.00,460.21 343.20,458.31 343.40,456.41 343.60,454.52 343.80,452.62 344.00,450.74 344.20,448.86 344.40,446.99 344.60,445.14 344.80,443.30 345.00,441.48 345.20,439.68 345.40,437.90 345.60,436.16 345.80,434.45 346.00,432.79 346.20,431.17 346.40,429.62 346.60,428.12 346.80,426.71 347.00,425.38 347.20,424.15 347.40,423.03 347.60,422.03 347.80,421.17 348.00,420.47 348.20,419.95 348.40,419.62 348.60,419.50 348.81,419.64 349.01,420.05 349.22,420.68 349.42,421.53 349.63,422.56 349.83,423.75 350.04,425.09 350.24,426.54 350.45,428.11 350.66,429.77 350.86,431.51 351.07,433.31 351.27,435.18 351.48,437.09 351.68,439.05 351.89,441.04 352.09,443.06 352.30,445.10 352.51,447.16 352.71,449.23 352.92,451.32 353.12,453.41 353.33,455.51 353.53,457.62 353.74,459.73 353.94,461.84 354.15,463.95 354.36,466.07 354.56,468.18 354.77,470.30 354.97,472.42 355.18,474.53 355.38,476.65 355.59,478.77 355.79,480.88 356.00,483.00 356.20,481.22 356.40,479.45 356.61,477.67 356.81,475.90 357.01,474.12 357.21,472.35 357.42,470.57 357.62,468.80 357.82,467.02 358.02,465.25 358.23,463.47 358.43,461.70 358.63,459.93 358.83,458.16 359.03,456.39 359.24,454.62 359.44,452.86 359.64,451.10 359.84,449.35 360.05,447.61 360.25,445.87 360.45,444.14 360.65,442.43 360.85,440.73 361.06,439.05 361.26,437.39 361.46,435.76 361.66,434.15 361.87,432.58 362.07,431.04 362.27,429.55 362.47,428.11 362.67,426.73 362.88,425.41 363.08,424.16 363.28,422.99 363.48,421.91 363.69,420.94 363.89,420.07 364.09,419.33 364.29,418.73 364.50,418.28 364.70,418.00 364.90,417.90 365.10,418.00 365.30,418.28 365.51,418.73 365.71,419.33 365.91,420.07 366.11,420.93 366.32,421.91 366.52,422.98 366.72,424.15 366.92,425.39 367.12,426.71 367.33,428.10 367.53,429.54 367.73,431.02 367.93,432.56 368.14,434.13 368.34,435.73 368.54,437.36 368.74,439.02 368.95,440.70 369.15,442.39 369.35,444.10 369.55,445.83 369.75,447.56 369.96,449.30 370.16,451.05 370.36,452.81 370.56,454.57 370.77,456.33 370.97,458.10 371.17,459.86 371.37,461.63 371.57,463.40 371.78,465.17 371.98,466.95 372.18,468.72 372.38,470.49 372.59,472.26 372.79,474.04 372.99,475.81 373.19,477.58 373.40,479.35 373.60,481.13 373.80,482.90 374.00,481.16 374.20,479.42 374.41,477.68 374.61,475.94 374.81,474.19 375.01,472.45 375.21,470.71 375.42,468.97 375.62,467.23 375.82,465.49 376.02,463.75 376.22,462.01 376.43,460.27 376.63,458.53 376.83,456.79 377.03,455.06 377.23,453.32 377.44,451.59 377.64,449.87 377.84,448.14 378.04,446.42 378.24,444.71 378.45,443.00 378.65,441.31 378.85,439.62 379.05,437.95 379.26,436.28 379.46,434.64 379.66,433.02 379.86,431.41 380.06,429.83 380.27,428.28 380.47,426.77 380.67,425.29 380.87,423.85 381.07,422.45 381.28,421.11 381.48,419.83 381.68,418.61 381.88,417.46 382.08,416.39 382.29,415.41 382.49,414.52 382.69,413.74 382.89,413.08 383.09,412.54 383.30,412.14 383.50,411.89 383.70,411.80 383.90,411.89 384.10,412.14 384.30,412.54 384.50,413.08 384.70,413.74 384.90,414.52 385.10,415.41 385.30,416.39 385.50,417.46 385.70,418.61 385.90,419.83 386.10,421.11 386.30,422.45 386.50,423.85 386.70,425.29 386.90,426.77 387.10,428.28 387.30,429.83 387.50,431.41 387.70,433.02 387.90,434.64 388.10,436.28 388.30,437.95 388.50,439.62 388.70,441.31 388.90,443.00 389.10,444.71 389.30,446.42 389.50,448.14 389.70,449.87 389.90,451.59 390.10,453.32 390.30,455.06 390.50,456.79 390.70,458.53 390.90,460.27 391.10,462.01 391.30,463.75 391.50,465.49 391.70,467.23 391.90,468.97 392.10,470.71 392.30,472.45 392.50,474.19 392.70,475.94 392.90,477.68 393.10,479.42 393.30,481.16 393.50,482.90 393.70,481.09 393.90,479.29 394.10,477.48 394.30,475.67 394.50,473.87 394.70,472.06 394.90,470.25 395.10,468.45 395.30,466.64 395.50,464.83 395.70,463.03 395.90,461.22 396.10,459.42 396.30,457.61 396.50,455.81 396.70,454.00 396.90,452.20 397.10,450.40 397.30,448.60 397.50,446.81 397.70,445.02 397.90,443.23 398.10,441.45 398.30,439.67 398.50,437.91 398.70,436.15 398.90,434.40 399.10,432.66 399.30,430.93 399.50,429.22 399.70,427.53 399.90,425.86 400.10,424.21 400.30,422.58 400.50,420.99 400.70,419.42 400.90,417.90 401.10,416.41 401.30,414.97 401.50,413.58 401.70,412.24 401.90,410.97 402.10,409.76 402.30,408.63 402.50,407.57 402.70,406.61 402.90,405.74 403.10,404.98 403.30,404.33 403.50,403.81 403.70,403.42 403.90,403.18 404.10,403.10 404.30,403.18 404.50,403.40 404.71,403.76 404.91,404.25 405.11,404.85 405.31,405.57 405.51,406.38 405.71,407.28 405.92,408.27 406.12,409.34 406.32,410.48 406.52,411.68 406.72,412.94 406.93,414.25 407.13,415.62 407.33,417.03 407.53,418.47 407.73,419.96 407.93,421.48 408.14,423.02 408.34,424.59 408.54,426.19 408.74,427.80 408.94,429.44 409.15,431.09 409.35,432.75 409.55,434.43 409.75,436.11 409.95,437.81 410.15,439.51 410.36,441.22 410.56,442.94 410.76,444.66 410.96,446.39 411.16,448.12 411.37,449.85 411.57,451.58 411.77,453.32 411.97,455.05 412.17,456.79 412.37,458.53 412.58,460.27 412.78,462.01 412.98,463.75 413.18,465.49 413.38,467.23 413.59,468.97 413.79,470.71 413.99,472.45 414.19,474.19 414.39,475.94 414.59,477.68 414.80,479.42 415.00,481.16 415.20,482.90 415.40,481.33 415.60,479.75 415.80,478.18 416.01,476.60 416.21,475.03 416.41,473.45 416.61,471.88 416.81,470.30 417.01,468.73 417.21,467.15 417.42,465.58 417.62,464.00 417.82,462.43 418.02,460.85 418.22,459.28 418.42,457.70 418.62,456.13 418.82,454.55 419.03,452.98 419.23,451.41 419.43,449.84 419.63,448.27 419.83,446.70 420.03,445.13 420.23,443.56 420.44,441.99 420.64,440.43 420.84,438.87 421.04,437.31 421.24,435.75 421.44,434.20 421.64,432.65 421.85,431.10 422.05,429.56 422.25,428.02 422.45,426.50 422.65,424.97 422.85,423.46 423.05,421.95 423.26,420.46 423.46,418.97 423.66,417.49 423.86,416.03 424.06,414.58 424.26,413.15 424.46,411.74 424.67,410.34 424.87,408.96 425.07,407.60 425.27,406.27 425.47,404.96 425.67,403.68 425.87,402.43 426.07,401.21 426.28,400.03 426.48,398.88 426.68,397.78 426.88,396.71 427.08,395.70 427.28,394.73 427.48,393.81 427.69,392.96 427.89,392.16 428.09,391.42 428.29,390.76 428.49,390.16 428.69,389.65 428.89,389.21 429.10,388.87 429.30,388.61 429.50,388.45 429.70,388.40 429.90,388.46 430.10,388.62 430.30,388.88 430.51,389.24 430.71,389.68 430.91,390.21 431.11,390.82 431.31,391.51 431.51,392.26 431.71,393.08 431.92,393.96 432.12,394.90 432.32,395.89 432.52,396.93 432.72,398.02 432.92,399.15 433.12,400.32 433.33,401.53 433.53,402.78 433.73,404.06 433.93,405.36 434.13,406.70 434.33,408.06 434.53,409.45 434.74,410.85 434.94,412.28 435.14,413.72 435.34,415.18 435.54,416.66 435.74,418.15 435.94,419.65 436.15,421.16 436.35,422.69 436.55,424.22 436.75,425.76 436.95,427.31 437.15,428.87 437.35,430.43 437.55,431.99 437.76,433.57 437.96,435.14 438.16,436.72 438.36,438.30 438.56,439.89 438.76,441.47 438.96,443.06 439.17,444.66 439.37,446.25 439.57,447.84 439.77,449.44 439.97,451.03 440.17,452.63 440.37,454.23 440.58,455.82 440.78,457.42 440.98,459.02 441.18,460.62 441.38,462.22 441.58,463.81 441.78,465.41 441.99,467.01 442.19,468.61 442.39,470.21 442.59,471.81 442.79,473.41 442.99,475.01 443.19,476.60 443.40,478.20 443.60,479.80 443.80,481.40 444.00,483.00 444.20,481.31 444.40,479.61 444.60,477.92 444.80,476.22 445.00,474.53 445.20,472.83 445.40,471.14 445.60,469.44 445.80,467.75 446.00,466.06 446.20,464.36 446.40,462.67 446.60,460.97 446.80,459.28 447.00,457.58 447.20,455.89 447.40,454.19 447.60,452.50 447.80,450.81 448.00,449.11 448.20,447.42 448.40,445.72 448.60,444.03 448.80,442.34 449.00,440.64 449.20,438.95 449.40,437.26 449.60,435.56 449.80,433.87 450.00,432.18 450.20,430.49 450.40,428.80 450.60,427.11 450.80,425.42 451.00,423.73 451.20,422.04 451.40,420.35 451.60,418.67 451.80,416.98 452.00,415.30 452.20,413.62 452.40,411.94 452.60,410.26 452.80,408.58 453.00,406.91 453.20,405.24 453.40,403.57 453.60,401.90 453.80,400.24 454.00,398.58 454.20,396.92 454.40,395.27 454.60,393.62 454.80,391.98 455.00,390.34 455.20,388.70 455.40,387.08 455.60,385.45 455.80,383.84 456.00,382.23 456.20,380.63 456.40,379.04 456.60,377.45 456.80,375.88 457.00,374.31 457.20,372.76 457.40,371.21 457.60,369.68 457.80,368.16 458.00,366.65 458.20,365.16 458.40,363.68 458.60,362.21 458.80,360.77 459.00,359.34 459.20,357.93 459.40,356.53 459.60,355.16 459.80,353.81 460.00,352.48 460.20,351.18 460.40,349.90 460.60,348.64 460.80,347.42 461.00,346.22 461.20,345.05 461.40,343.92 461.60,342.81 461.80,341.75 462.00,340.71 462.20,339.72 462.40,338.77 462.60,337.85 462.80,336.98 463.00,336.16 463.20,335.38 463.40,334.65 463.60,333.97 463.80,333.35 464.00,332.78 464.20,332.26 464.40,331.81 464.60,331.42 464.80,331.10 465.00,330.84 465.20,330.65 465.40,330.54 465.60,330.50 465.73,330.59 465.90,330.70 466.10,330.82 466.33,330.95 466.58,331.11 466.83,331.28 467.09,331.49 467.34,331.73 467.58,331.99 467.80,332.30 468.01,332.63 468.21,332.98 468.41,333.35 468.60,333.74 468.80,334.17 469.00,334.64 469.19,335.15 469.39,335.71 469.59,336.32 469.80,337.00 470.01,337.74 470.22,338.54 470.44,339.39 470.66,340.29 470.88,341.23 471.10,342.22 471.32,343.24 471.54,344.30 471.77,345.39 472.00,346.50 472.23,347.63 472.46,348.78 472.68,349.95 472.91,351.16 473.14,352.41 473.38,353.70 473.62,355.05 473.87,356.46 474.13,357.94 474.40,359.50 474.68,361.15 474.98,362.89 475.28,364.71 475.59,366.60 475.91,368.53 476.23,370.50 476.55,372.50 476.87,374.51 477.19,376.51 477.50,378.50 477.81,380.49 478.12,382.52 478.43,384.57 478.74,386.64 479.05,388.72 479.36,390.80 479.67,392.88 479.98,394.94 480.29,396.98 480.60,399.00 480.91,401.01 481.22,403.02 481.53,405.03 481.84,407.04 482.16,409.03 482.47,411.00 482.78,412.94 483.09,414.84 483.39,416.70 483.70,418.50 484.01,420.26 484.32,421.99 484.63,423.68 484.94,425.34 485.25,426.97 485.56,428.56 485.85,430.10 486.15,431.61 486.43,433.08 486.70,434.50 486.96,435.87 487.20,437.19 487.44,438.46 487.67,439.68 487.89,440.88 488.11,442.04 488.32,443.17 488.54,444.29 488.77,445.40 489.00,446.50 489.24,447.60 489.48,448.68 489.72,449.76 489.97,450.81 490.21,451.84 490.46,452.85 490.70,453.82 490.94,454.76 491.17,455.65 491.40,456.50 491.62,457.30 491.83,458.04 492.04,458.75 492.24,459.41 492.44,460.04 492.65,460.65 492.85,461.25 493.06,461.83 493.28,462.41 493.50,463.00 493.73,463.58 493.97,464.15 494.20,464.70 494.45,465.24 494.69,465.77 494.94,466.30 495.20,466.81 495.46,467.31 495.73,467.81 496.00,468.30 496.28,468.79 496.56,469.27 496.86,469.74 497.15,470.21 497.46,470.67 497.76,471.12 498.07,471.56 498.38,471.98 498.69,472.40 499.00,472.80 499.31,473.19 499.61,473.55 499.91,473.90 500.21,474.24 500.52,474.57 500.83,474.90 501.15,475.22 501.49,475.54 501.83,475.87 502.20,476.20 502.58,476.54 502.98,476.87 503.39,477.21 503.81,477.55 504.24,477.89 504.68,478.22 505.13,478.55 505.58,478.87 506.04,479.19 506.50,479.50 506.97,479.81 507.45,480.12 507.94,480.43 508.43,480.73 508.93,481.03 509.43,481.32 509.93,481.59 510.43,481.85 510.92,482.09 511.40,482.30 511.89,482.49 512.41,482.66 512.95,482.82 513.48,482.95 514.01,483.08 514.51,483.18 514.97,483.28 515.38,483.36 515.73,483.44 516.00,483.50"/>
<line x1="119.2" y1="439.5" x2="119.2" y2="446"/>
<line x1="464.9" y1="304.4" x2="464.9" y2="319"/>
</g>
<path d="M117.4,444.6 L121.0,444.6 L119.2,451.2 Z" fill="#111"/>
<path d="M463.1,317.6 L466.7,317.6 L464.9,324.2 Z" fill="#111"/>
<g style="font-family:'Liberation Sans',Arial,sans-serif;font-size:13px" fill="#000">
<text x="1.6" y="14.9" style="font-weight:bold;font-size:15.5px">a</text>
<text x="271.9" y="14.9" style="font-weight:bold;font-size:15.5px">b</text>
<text x="26.6" y="346.7" style="font-weight:bold;font-size:15.5px">c</text>
<text x="20.8" y="33.0" text-anchor="end">10</text>
<text x="20.6" y="261.9" text-anchor="end">0</text>
<text x="25.5" y="272.4" text-anchor="middle">0</text>
<text x="83.6" y="272.4" text-anchor="middle">10</text>
<text x="141.3" y="272.4" text-anchor="middle">20</text>
<text x="199.3" y="272.4" text-anchor="middle">30</text>
<text x="256.4" y="272.4" text-anchor="middle">40</text>
<text x="141.4" y="289.2" text-anchor="middle" style="font-size:13.1px">Time (psec)</text>
<text transform="translate(10.9,187.5) rotate(-90)" style="font-size:13.3px">P<tspan dy="3.6" style="font-size:9.3px">f</tspan><tspan dy="-3.6" dx="0.7"> (normalized)</tspan></text>
<text x="307.3" y="33.0" text-anchor="end">10</text>
<text x="307.3" y="261.9" text-anchor="end">0</text>
<text x="312.4" y="272.4" text-anchor="middle">0</text>
<text x="370.5" y="272.4" text-anchor="middle">10</text>
<text x="428.3" y="272.4" text-anchor="middle">20</text>
<text x="486.0" y="272.4" text-anchor="middle">30</text>
<text x="543.0" y="272.4" text-anchor="middle">40</text>
<text x="427.7" y="289.2" text-anchor="middle" style="font-size:13.1px">Time (psec)</text>
<text transform="translate(296.0,189.0) rotate(-90)" style="font-size:13.3px"><tspan style="font-family:'Liberation Serif','Times New Roman',serif">Δϕ</tspan> (normalized)</text>
<text x="35.0" y="498.4" text-anchor="middle">−25</text>
<text x="119.80" y="498.4" text-anchor="middle">0</text>
<text x="197.70" y="498.4" text-anchor="middle">25</text>
<text x="276.40" y="498.4" text-anchor="middle">50</text>
<text x="353.50" y="498.4" text-anchor="middle">75</text>
<text x="432.60" y="498.4" text-anchor="middle">100</text>
<text x="511.80" y="498.4" text-anchor="middle">125</text>
<text x="35.6" y="435.2" style="font-size:13.25px">Laser frequency</text>
<text x="472.6" y="319.2" style="font-family:'Liberation Serif','Times New Roman',serif;font-size:14px">Δ</text>
<text transform="translate(481.2,319.2) scale(1.18,1)" style="font-family:'Liberation Serif','Times New Roman',serif;font-size:14px">ω</text>
<text transform="translate(492.2,322.4) scale(1.08,1)" style="font-size:11px">max</text>
<g style="font-size:14.5px">
<text x="198.0" y="521.6" style="font-family:'Liberation Serif','Times New Roman',serif;font-size:14px">Δ</text>
<text transform="translate(211.0,521.6) scale(1.06,1)" style="font-family:'Liberation Serif','Times New Roman',serif;font-size:14px">ω</text>
<text transform="translate(224.9,523.1) scale(1.12,1)">=</text>
<text transform="translate(238.0,521.6) scale(1.06,1)" style="font-family:'Liberation Serif','Times New Roman',serif;font-size:14px">ω</text>
<text x="248.4" y="524.2" style="font-size:11px">0</text>
<text transform="translate(258.2,522.4) scale(1.14,1)">−</text>
<text transform="translate(271.7,521.6) scale(1.06,1)" style="font-family:'Liberation Serif','Times New Roman',serif;font-size:14px">ω</text>
<text x="286.4" y="521.6">(cm</text>
<text transform="translate(310.1,517.7) scale(1.0,1)" style="font-size:13px">−</text>
<text x="317.9" y="515.0" style="font-size:8.6px">1</text>
<text x="323.3" y="521.6">)</text>
</g>
</g>
</svg>
</body></html>
